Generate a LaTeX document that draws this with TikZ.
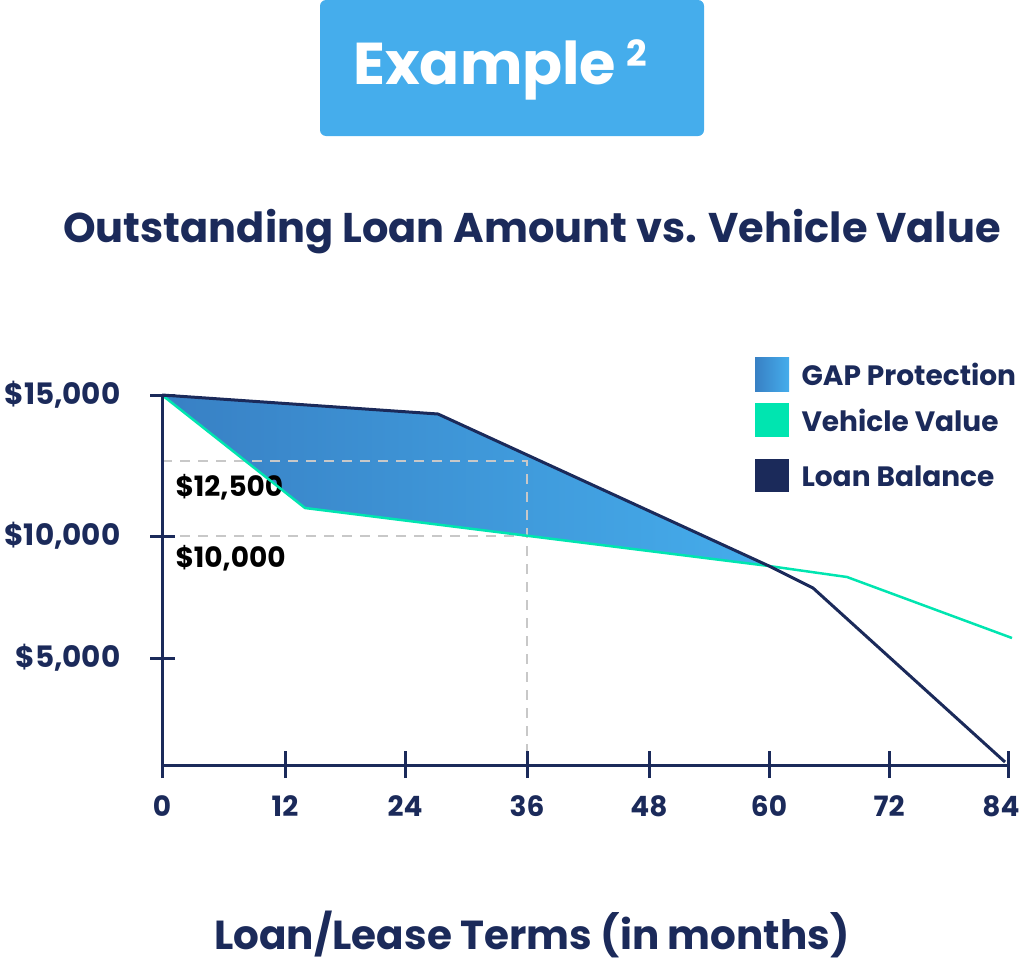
\documentclass[tikz,border=0pt]{standalone}
\usepackage{fontspec}
\setmainfont{Poppins}
\begin{document}
\begin{tikzpicture}[x=1pt,y=-1pt,
  lbl/.style={font=\fontsize{28}{32}\selectfont\bfseries, text={rgb,255:red,27;green,42;blue,90}}]
\definecolor{navyc}{RGB}{27,42,90}
\definecolor{skyc}{RGB}{69,173,236}
\definecolor{darksky}{RGB}{56,128,196}
\definecolor{greenc}{RGB}{0,229,176}
\definecolor{dashc}{RGB}{200,200,200}
\useasboundingbox (0,0) rectangle (1024,964);
\node[fill=skyc,rounded corners=6pt,minimum width=384pt,minimum height=136pt] (box) at (512,68) {};
\node[text=white,font=\fontsize{59}{64}\selectfont\bfseries] (ex) at (500,70) {Example\,\raisebox{0.55ex}{\fontsize{36}{40}\selectfont 2}};
\node[lbl,font=\fontsize{41.5}{46}\selectfont\bfseries] (title) at (532,232) {Outstanding Loan Amount vs. Vehicle Value};
% fill
\shade[left color=darksky,right color=skyc] (162,395) -- (438,414) -- (769,566) -- (305,508) -- cycle;
% dashed
\draw[dashc,line width=2.5pt,dash pattern=on 10pt off 8pt] (162,461) -- (527,461) -- (527,765);
\draw[dashc,line width=2.5pt,dash pattern=on 10pt off 8pt] (162,536) -- (527,536);
\node[anchor=west,font=\fontsize{28}{32}\selectfont\bfseries] (l125) at (172,487) {\$12,500};
\node[anchor=west,font=\fontsize{28}{32}\selectfont\bfseries] (l100) at (172,558) {\$10,000};
% lines
\draw[greenc,line width=2.5pt,line join=round] (162,395) -- (305,508) -- (769,566) -- (847,577) -- (1012,638);
\draw[navyc,line width=3pt,line join=round] (162,395) -- (438,414) -- (769,566) -- (813,588) -- (1005,762);
% axes
\draw[navyc,line width=3pt] (162,395) -- (162,765) -- (1008,765);
\foreach \x/\t in {162/0,285/12,405/24,527/36,649/48,769/60,889/72}{
  \draw[navyc,line width=3pt] (\x,778) -- (\x,751);
  \node[lbl] at (\x,806) {\t};}
\draw[navyc,line width=3pt] (1008,778) -- (1008,751);
\node[lbl,anchor=east] (t84) at (1023,806) {84};
\foreach \y/\t in {395/15,536/10,658/5}{
  \draw[navyc,line width=3pt] (150,\y) -- (175,\y);
  \node[lbl,font=\fontsize{29.5}{32}\selectfont\bfseries,anchor=east] at (124,\y) {\$\t,000};}
% legend
\shade[left color=darksky,right color=skyc] (755,357) rectangle (789,391);
\fill[greenc] (755,403) rectangle (789,437);
\fill[navyc] (755,459) rectangle (789,492);
\node[lbl,anchor=west] (g1) at (798,374) {GAP Protection};
\node[lbl,anchor=west] (g2) at (798,420) {Vehicle Value};
\node[lbl,anchor=west] (g3) at (798,476) {Loan Balance};
\node[lbl,font=\fontsize{40.5}{46}\selectfont\bfseries] (xt) at (532,934) {Loan/Lease Terms (in months)};
\end{tikzpicture}
\end{document}
